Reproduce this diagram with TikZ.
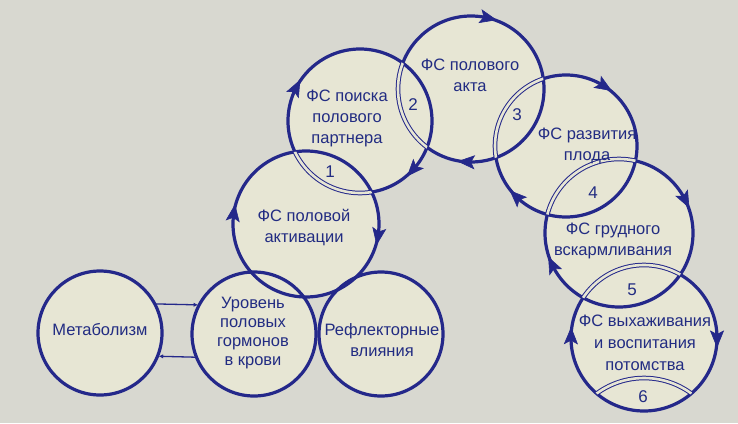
\documentclass[tikz,border=0pt]{standalone}
\usepackage{fontspec}
\setmainfont{Liberation Sans}
\usetikzlibrary{arrows.meta,backgrounds}
\definecolor{ink}{RGB}{36,40,138}
\definecolor{txt}{RGB}{34,44,130}
\definecolor{bg}{RGB}{216,216,208}
\definecolor{cfill}{RGB}{231,230,212}
\tikzset{
 ring/.style={circle,draw=ink,line width=3.2pt,inner sep=0pt,outer sep=0pt},
 lbl/.style={text=txt,align=center,font=\fontsize{16.5}{21}\selectfont},
 num/.style={text=txt,font=\fontsize{17}{19}\selectfont},
 dbl/.style={draw=ink,line width=1pt,double=cfill,double distance=2.6pt},
 headfill/.style={fill=ink,draw=ink,line width=0.6pt,line join=miter},
 conn/.style={ink,line width=1.3pt,shorten >=1.2pt,shorten <=1.2pt,-{Latex[length=4.5pt,width=4.5pt]}},
}
% arrowhead on ring #1 (radius #2) at angle #3, pointing clockwise
\newcommand\ringtip[3]{%
 \begin{scope}[shift={(#1.center)},rotate=#3]
  \path[headfill] (#2pt,-9pt) -- ({#2pt+6.5pt},7pt) -- (#2pt,3.5pt) -- ({#2pt-6.5pt},7pt) -- cycle;
 \end{scope}}
\begin{document}
\begin{tikzpicture}[x=1pt,y=1pt]
\useasboundingbox (0,0) rectangle (738,-423);
% rings
\node[ring,minimum size=146pt] (C1) at (306,-224) {};
\node[ring,minimum size=144pt] (C2) at (360,-121) {};
\node[ring,minimum size=146pt] (C3) at (471,-89) {};
\node[ring,minimum size=142pt] (C4) at (566,-146) {};
\node[ring,minimum size=148pt] (C5) at (619,-233) {};
\node[ring,minimum size=146pt] (C6) at (644,-338) {};
\node[ring,minimum size=124pt] (M) at (100,-333) {};
\node[ring,minimum size=124pt] (U) at (254,-334) {};
\node[ring,minimum size=124pt] (R) at (381,-334) {};
\coordinate (V6) at (644,-458);
\begin{scope}[on background layer]
\fill[bg] (0,0) rectangle (738,-423);
\foreach \n/\r in {C1/73,C2/72,C3/73,C4/71,C5/74,C6/73,M/62,U/62,R/62}
  \fill[cfill] (\n.center) circle (\r pt);
\end{scope}
% double arcs in the overlaps
\begin{scope}\clip (C1.center) circle (73pt); \draw[dbl] (C2.center) circle (72pt);\end{scope}
\begin{scope}\clip (C2.center) circle (72pt); \draw[dbl] (C3.center) circle (73pt);\end{scope}
\begin{scope}\clip (C3.center) circle (73pt); \draw[dbl] (C4.center) circle (71pt);\end{scope}
\begin{scope}\clip (C4.center) circle (71pt); \draw[dbl] (C5.center) circle (74pt);\end{scope}
\begin{scope}\clip (C5.center) circle (74pt); \draw[dbl] (C6.center) circle (73pt);\end{scope}
\begin{scope}\clip (C6.center) circle (73pt); \draw[dbl] (V6) circle (80pt);\end{scope}
% arrowheads on the rings (clockwise)
\ringtip{C1}{73}{172}
\ringtip{C1}{73}{-9}
\ringtip{C2}{72}{153}
\ringtip{C2}{72}{-42}
\ringtip{C3}{73}{77}
\ringtip{C3}{73}{-93}
\ringtip{C4}{71}{58}
\ringtip{C4}{71}{-134}
\ringtip{C5}{74}{27}
\ringtip{C5}{74}{-154}
\ringtip{C6}{73}{0}
\ringtip{C6}{73}{179}
% connectors
\draw[conn] (M.28) -- (U.152);
\draw[conn] (U.-158) -- (M.-22);
% texts
\node[lbl] (T1) at (304,-228) {ФС половой\\активации};
\node[lbl] (T2) at (347,-118) {ФС поиска\\полового\\партнера};
\node[lbl] (T3) at (470,-75) {ФС полового\\акта};
\node[lbl] (T4) at (587,-146) {ФС развития\\плода};
\node[lbl] (T5) at (613,-241) {ФС грудного\\вскармливания};
\node[lbl,font=\fontsize{16.5}{22}\selectfont] (T6) at (645,-343) {ФС выхаживания\\и воспитания\\потомства};
\node[lbl] (TM) at (100,-330) {Метаболизм};
\node[lbl,font=\fontsize{16.5}{19}\selectfont] (TU) at (253,-333) {Уровень\\половых\\гормонов\\в крови};
\node[lbl] (TR) at (382,-340) {Рефлекторные\\влияния};
\node[num] (N1) at (330,-172) {1};
\node[num] (N2) at (413,-105) {2};
\node[num] (N3) at (517,-115) {3};
\node[num] (N4) at (593,-193) {4};
\node[num] (N5) at (632,-290) {5};
\node[num] (N6) at (643,-397) {6};
\end{tikzpicture}
\end{document}
